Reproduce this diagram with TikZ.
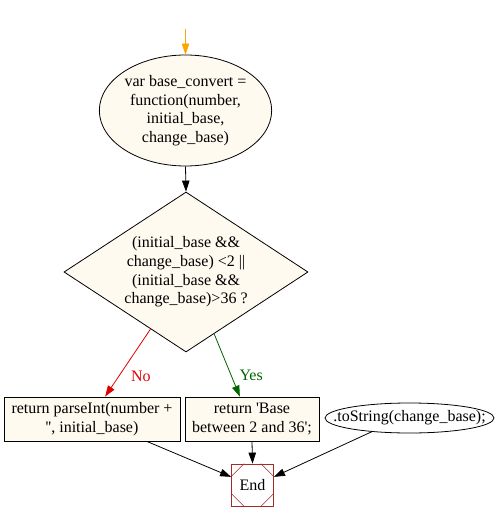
\documentclass[tikz,border=0pt]{standalone}
\usepackage{fontspec}
\setmainfont{Liberation Serif}
\usetikzlibrary{shapes.geometric,arrows.meta,calc}
\definecolor{fillc}{HTML}{FFFAF0}
\definecolor{endc}{HTML}{A52A2A}
\definecolor{noc}{HTML}{E00000}
\definecolor{yesc}{HTML}{006400}
\definecolor{startc}{HTML}{FFA500}
\tikzset{
  base/.style={draw=black, line width=0.8bp, fill=fillc, inner sep=0pt, align=center,
    font=\fontsize{16bp}{18.6bp}\selectfont},
  ellbox/.style={base, ellipse},
  diabox/.style={base, diamond, aspect=1.525},
  recbox/.style={base, rectangle},
  endbox/.style={base, draw=endc, fill=white, rectangle, minimum width=42bp, minimum height=42bp},
  conn/.style={line width=0.8bp, -{Triangle[length=11bp,width=7.5bp]}},
  lbl/.style={font=\fontsize{16bp}{18.6bp}\selectfont, inner sep=0pt}
}
\begin{document}
\begin{tikzpicture}[x=1bp,y=-1bp]
\useasboundingbox (0,0) rectangle (497,521);
\node[ellbox, minimum width=167bp, minimum height=111bp] (start) at (185.5,110.5)
  {var base\_convert =\\function(number,\\initial\_base,\\change\_base)};
\node[diabox, minimum width=244bp, minimum height=160bp] (dia) at (186,272)
  {(initial\_base \&\&\\change\_base) <2 ||\\(initial\_base \&\&\\change\_base)>36 ?};
\node[recbox, minimum width=176bp, minimum height=44bp] (box1) at (92,419)
  {return parseInt(number +\\\textquotesingle\textquotesingle, initial\_base)};
\node[recbox, minimum width=134bp, minimum height=44bp] (box2) at (252,419)
  {return \textquotesingle Base\\between 2 and 36\textquotesingle;};
\node[base, ellipse, fill=white, minimum width=169bp, minimum height=30bp] (ell3) at (409.5,418)
  {\makebox[100bp]{.toString(change\_base);}};
\node[endbox] (end) at (252.5,485) {End};
\draw[endc, line width=0.6bp]
  ($(end.north west)+(0,13)$) -- ($(end.north west)+(13,0)$)
  ($(end.north east)+(0,13)$) -- ($(end.north east)+(-13,0)$)
  ($(end.south west)+(0,-13)$) -- ($(end.south west)+(13,0)$)
  ($(end.south east)+(0,-13)$) -- ($(end.south east)+(-13,0)$);
\coordinate (top) at (185.5,29);
\draw[conn, startc] (top) -- (start.north);
\draw[conn] (start.south) -- (dia.north);
\draw[conn, noc] ($(dia.west)!0.71!(dia.south)$) -- ($(box1.north west)!0.574!(box1.north east)$)
  node[lbl, noc, pos=0.7, right=12bp] (nolbl) {No};
\draw[conn, yesc] ($(dia.south)!0.23!(dia.east)$) -- ($(box2.north west)!0.41!(box2.north east)$)
  node[lbl, yesc, pos=0.66, right=8bp] (yeslbl) {Yes};
\draw[conn] ($(box1.south west)!0.81!(box1.south east)$) -- ($(end.north west)!0.31!(end.south west)$);
\draw[conn] (box2.south) -- (end.north);
\draw[conn] (ell3.200) -- ($(end.north east)!0.31!(end.south east)$);
\end{tikzpicture}
\end{document}
